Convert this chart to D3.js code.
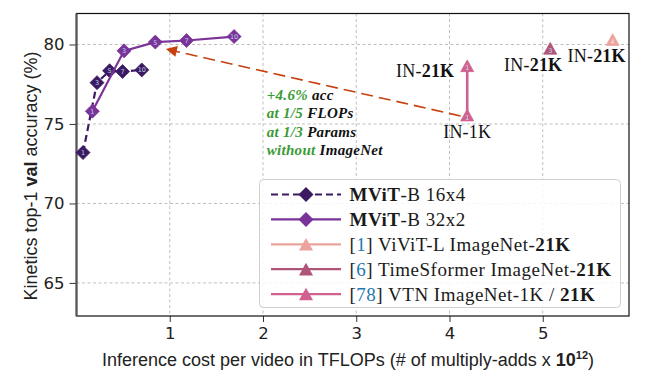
<!DOCTYPE html>
<html><head><meta charset="utf-8">
<script src="https://cdn.jsdelivr.net/npm/d3@7"></script>
<style>body{margin:0;background:#fff}svg{display:block}</style>
</head><body>
<svg id="c" width="657" height="378"></svg>
<script>
// ---- data ----
const xTicks = [1, 2, 3, 4, 5];
const yTicks = [65, 70, 75, 80];
const mvit16Views = [1, 3, 5, 7, 10];
const mvit16Flops = [0.07, 0.22, 0.355, 0.494, 0.70];
const mvit16Acc = [73.2, 77.6, 78.35, 78.3, 78.4];
const mvit32Views = [1, 3, 5, 7, 10];
const mvit32Flops = [0.17, 0.51, 0.845, 1.18, 1.69];
const mvit32Acc = [75.8, 79.6, 80.15, 80.25, 80.5];
const vtnViews = [1, 1];
const vtnFlops = [4.19, 4.19];
const vtnAcc = [75.5, 78.6];
const tsViews = [3];
const tsFlops = [5.08];
const tsAcc = [79.7];
const vivitViews = [4];
const vivitFlops = [5.75];
const vivitAcc = [80.25];
const arrowFrom = [4.12, 75.5];
const arrowTo = [0.97, 79.7];
const noteLines = [["+4.6%", " acc"], ["at 1/5", " FLOPs"], ["at 1/3", " Params"], ["without", " ImageNet"]];
const notePos = [2.04, 76.5];

const W = 657, H = 378;
const m = {left: 76.5, right: 28, top: 13.5, bottom: 62};
const svg = d3.select("#c");
const x = d3.scaleLinear().domain([0, 5.925]).range([m.left, W - m.right]);
const y = d3.scaleLinear().domain([62.92, 81.95]).range([H - m.bottom, m.top]);

const C16 = "#3c1a62", C32 = "#7a3399", CVIVIT = "#eca39d", CTS = "#b05479", CVTN = "#d0618f";
const SANS = "'DejaVu Sans', sans-serif", ARIAL = "'Liberation Sans', Arial, sans-serif", SERIF = "'Liberation Serif', 'Times New Roman', serif";

// grid
const g = svg.append("g");
g.selectAll(".gx").data(xTicks).join("line")
  .attr("x1", d => x(d)).attr("x2", d => x(d)).attr("y1", m.top).attr("y2", H - m.bottom)
  .attr("stroke", "#b8b8b8").attr("stroke-width", 0.9).attr("stroke-dasharray", "3,2.5");
g.selectAll(".gy").data(yTicks).join("line")
  .attr("y1", d => y(d)).attr("y2", d => y(d)).attr("x1", m.left).attr("x2", W - m.right)
  .attr("stroke", "#b8b8b8").attr("stroke-width", 0.9).attr("stroke-dasharray", "3,2.5");

// axes
const xAxis = d3.axisBottom(x).tickValues(xTicks).tickSize(6).tickPadding(5).tickFormat(d3.format("d"));
const yAxis = d3.axisLeft(y).tickValues(yTicks).tickSize(7).tickPadding(5).tickFormat(d3.format("d"));
const gx = svg.append("g").attr("transform", `translate(0,${H - m.bottom})`).call(xAxis);
const gy = svg.append("g").attr("transform", `translate(${m.left},0)`).call(yAxis);
[gx, gy].forEach(a => {
  a.select(".domain").remove();
  a.selectAll("line").attr("stroke", "#333").attr("stroke-width", 1);
  a.selectAll("text").attr("font-family", SANS).attr("font-size", 16.5).attr("fill", "#222");
});
// frame
svg.append("rect").attr("x", m.left).attr("y", m.top).attr("width", W - m.right - m.left).attr("height", H - m.bottom - m.top)
  .attr("fill", "none").attr("stroke", "#111").attr("stroke-width", 1.2);
svg.append("line").attr("x1", m.left).attr("x2", m.left).attr("y1", m.top).attr("y2", H - m.bottom)
  .attr("stroke", "#555").attr("stroke-width", 2.2);

// axis titles
const yt = svg.append("text").attr("transform", `translate(37,176) rotate(-90)`)
  .attr("text-anchor", "middle").attr("font-family", ARIAL).attr("font-size", 18).attr("fill", "#222");
yt.append("tspan").text("Kinetics top-1 ");
yt.append("tspan").attr("font-weight", "bold").text("val");
yt.append("tspan").text(" accuracy (%)");
const xt = svg.append("text").attr("x", 348).attr("y", 366)
  .attr("text-anchor", "middle").attr("font-family", ARIAL).attr("font-size", 18).attr("fill", "#222");
xt.append("tspan").text("Inference cost per video in TFLOPs (# of multiply-adds x ");
xt.append("tspan").attr("font-weight", "bold").text("10");
xt.append("tspan").attr("font-size", 11).attr("font-weight", "bold").attr("dy", -7).text("12");
xt.append("tspan").attr("dy", 7).text(")");

// marker shapes
const diamond = r => `M0,${-r}L${r},0L0,${r}L${-r},0Z`;
const tri = r => `M0,${-r * 1.05}L${r},${r * 0.75}L${-r},${r * 0.75}Z`;

// arrow
const defs = svg.append("defs");
defs.append("marker").attr("id", "ah").attr("viewBox", "0 0 10 10").attr("refX", 9).attr("refY", 5)
  .attr("markerWidth", 16).attr("markerHeight", 11).attr("markerUnits", "userSpaceOnUse").attr("orient", "auto")
  .append("path").attr("d", "M0,0L10,5L0,10Z").attr("fill", "#c8400e");
svg.append("line").attr("x1", x(arrowFrom[0])).attr("y1", y(arrowFrom[1])).attr("x2", x(arrowTo[0])).attr("y2", y(arrowTo[1]))
  .attr("stroke", "#c8400e").attr("stroke-width", 1.6).attr("stroke-dasharray", "12,6").attr("marker-end", "url(#ah)");

// series
function series(fl, acc, views, color, dash, shape, r, lw, labColor) {
  const pts = fl.map((f, i) => ({f, a: acc[i], v: views[i]}));
  if (pts.length > 1) {
    svg.append("path").datum(pts).attr("fill", "none").attr("stroke", color).attr("stroke-width", lw)
      .attr("stroke-dasharray", dash).attr("d", d3.line().x(d => x(d.f)).y(d => y(d.a)));
  }
  const gp = svg.append("g").selectAll("g").data(pts).join("g").attr("transform", d => `translate(${x(d.f)},${y(d.a)})`);
  gp.append("path").attr("d", shape(r)).attr("fill", color).attr("stroke", color).attr("stroke-width", 0.8);
  gp.append("text").attr("text-anchor", "middle").attr("y", shape === tri ? 3.5 : 2.5).attr("font-family", SANS)
    .attr("font-size", 6.5).attr("fill", labColor).text(d => d.v);
}
series(mvit16Flops, mvit16Acc, mvit16Views, C16, "7,4", diamond, 7, 2.2, "#b9d3ee");
series(mvit32Flops, mvit32Acc, mvit32Views, C32, null, diamond, 7, 2.2, "#b9d3ee");
series(vtnFlops, vtnAcc, vtnViews, CVTN, null, tri, 6.5, 2.6, "#c9dcf0");
series(tsFlops, tsAcc, tsViews, CTS, null, tri, 6.5, 2.6, "#c9dcf0");
series(vivitFlops, vivitAcc, vivitViews, CVIVIT, null, tri, 6.5, 2.6, "#f6dede");

// IN labels
function inLabel(px, py, bold, dx, dy) {
  const t = svg.append("text").attr("x", x(px) + dx).attr("y", y(py) + dy).attr("text-anchor", "middle")
    .attr("font-family", SERIF).attr("font-size", 18).attr("letter-spacing", 0.2).attr("fill", "#111");
  t.append("tspan").text("IN-");
  t.append("tspan").attr("font-weight", bold ? "bold" : "normal").text(bold ? "21K" : "1K");
}
inLabel(vtnFlops[1], vtnAcc[1], true, -42, 10);
inLabel(vtnFlops[0], vtnAcc[0], false, 0, 22);
inLabel(tsFlops[0], tsAcc[0], true, -17, 22);
inLabel(vivitFlops[0], vivitAcc[0], true, -16, 21.5);

// annotation
noteLines.forEach((ln, i) => {
  const t = svg.append("text").attr("x", x(notePos[0])).attr("y", y(notePos[1]) + i * 18.2)
    .attr("font-family", SERIF).attr("font-size", 15).attr("letter-spacing", 0.3).attr("font-style", "italic").attr("font-weight", "bold");
  t.append("tspan").attr("fill", "#3a9a35").text(ln[0]);
  t.append("tspan").attr("fill", "#111").text(ln[1]);
});

// legend
const lg = svg.append("g");
lg.append("rect").attr("x", 259.5).attr("y", 179.5).attr("width", 361).attr("height", 128).attr("rx", 4)
  .attr("fill", "#fff").attr("fill-opacity", 0.85).attr("stroke", "#cfcfcf").attr("stroke-width", 1);
const legItems = [
  {c: C16, dash: "7,4", shape: diamond, r: 7.5, parts: [["MViT", "b"], ["-B 16x4", "n"]]},
  {c: C32, dash: null, shape: diamond, r: 7.5, parts: [["MViT", "b"], ["-B 32x2", "n"]]},
  {c: CVIVIT, dash: null, shape: tri, r: 7, parts: [["[", "n"], ["1", "c"], ["] ViViT-L ImageNet-", "n"], ["21K", "b"]]},
  {c: CTS, dash: null, shape: tri, r: 7, parts: [["[", "n"], ["6", "c"], ["] TimeSformer ImageNet-", "n"], ["21K", "b"]]},
  {c: CVTN, dash: null, shape: tri, r: 7, parts: [["[", "n"], ["78", "c"], ["] VTN ImageNet-1K / ", "n"], ["21K", "b"]]}
];
legItems.forEach((it, i) => {
  const cy = 194.5 + i * 24.9;
  lg.append("line").attr("x1", 271).attr("x2", 341).attr("y1", cy).attr("y2", cy).attr("stroke", it.c)
    .attr("stroke-width", 2.2).attr("stroke-dasharray", it.dash);
  lg.append("path").attr("transform", `translate(306,${cy + (it.shape === tri ? 1 : 0)})`).attr("d", it.shape(it.r)).attr("fill", it.c);
  const t = lg.append("text").attr("x", 349.5).attr("y", cy + 6.5).attr("font-family", SERIF).attr("font-size", 19)
    .attr("letter-spacing", 0.5).attr("fill", "#1a1a1a");
  it.parts.forEach(p => {
    t.append("tspan").attr("font-weight", p[1] === "b" ? "bold" : "normal").attr("fill", p[1] === "c" ? "#1f77b4" : "#1a1a1a").text(p[0]);
  });
});
</script>
</body></html>
